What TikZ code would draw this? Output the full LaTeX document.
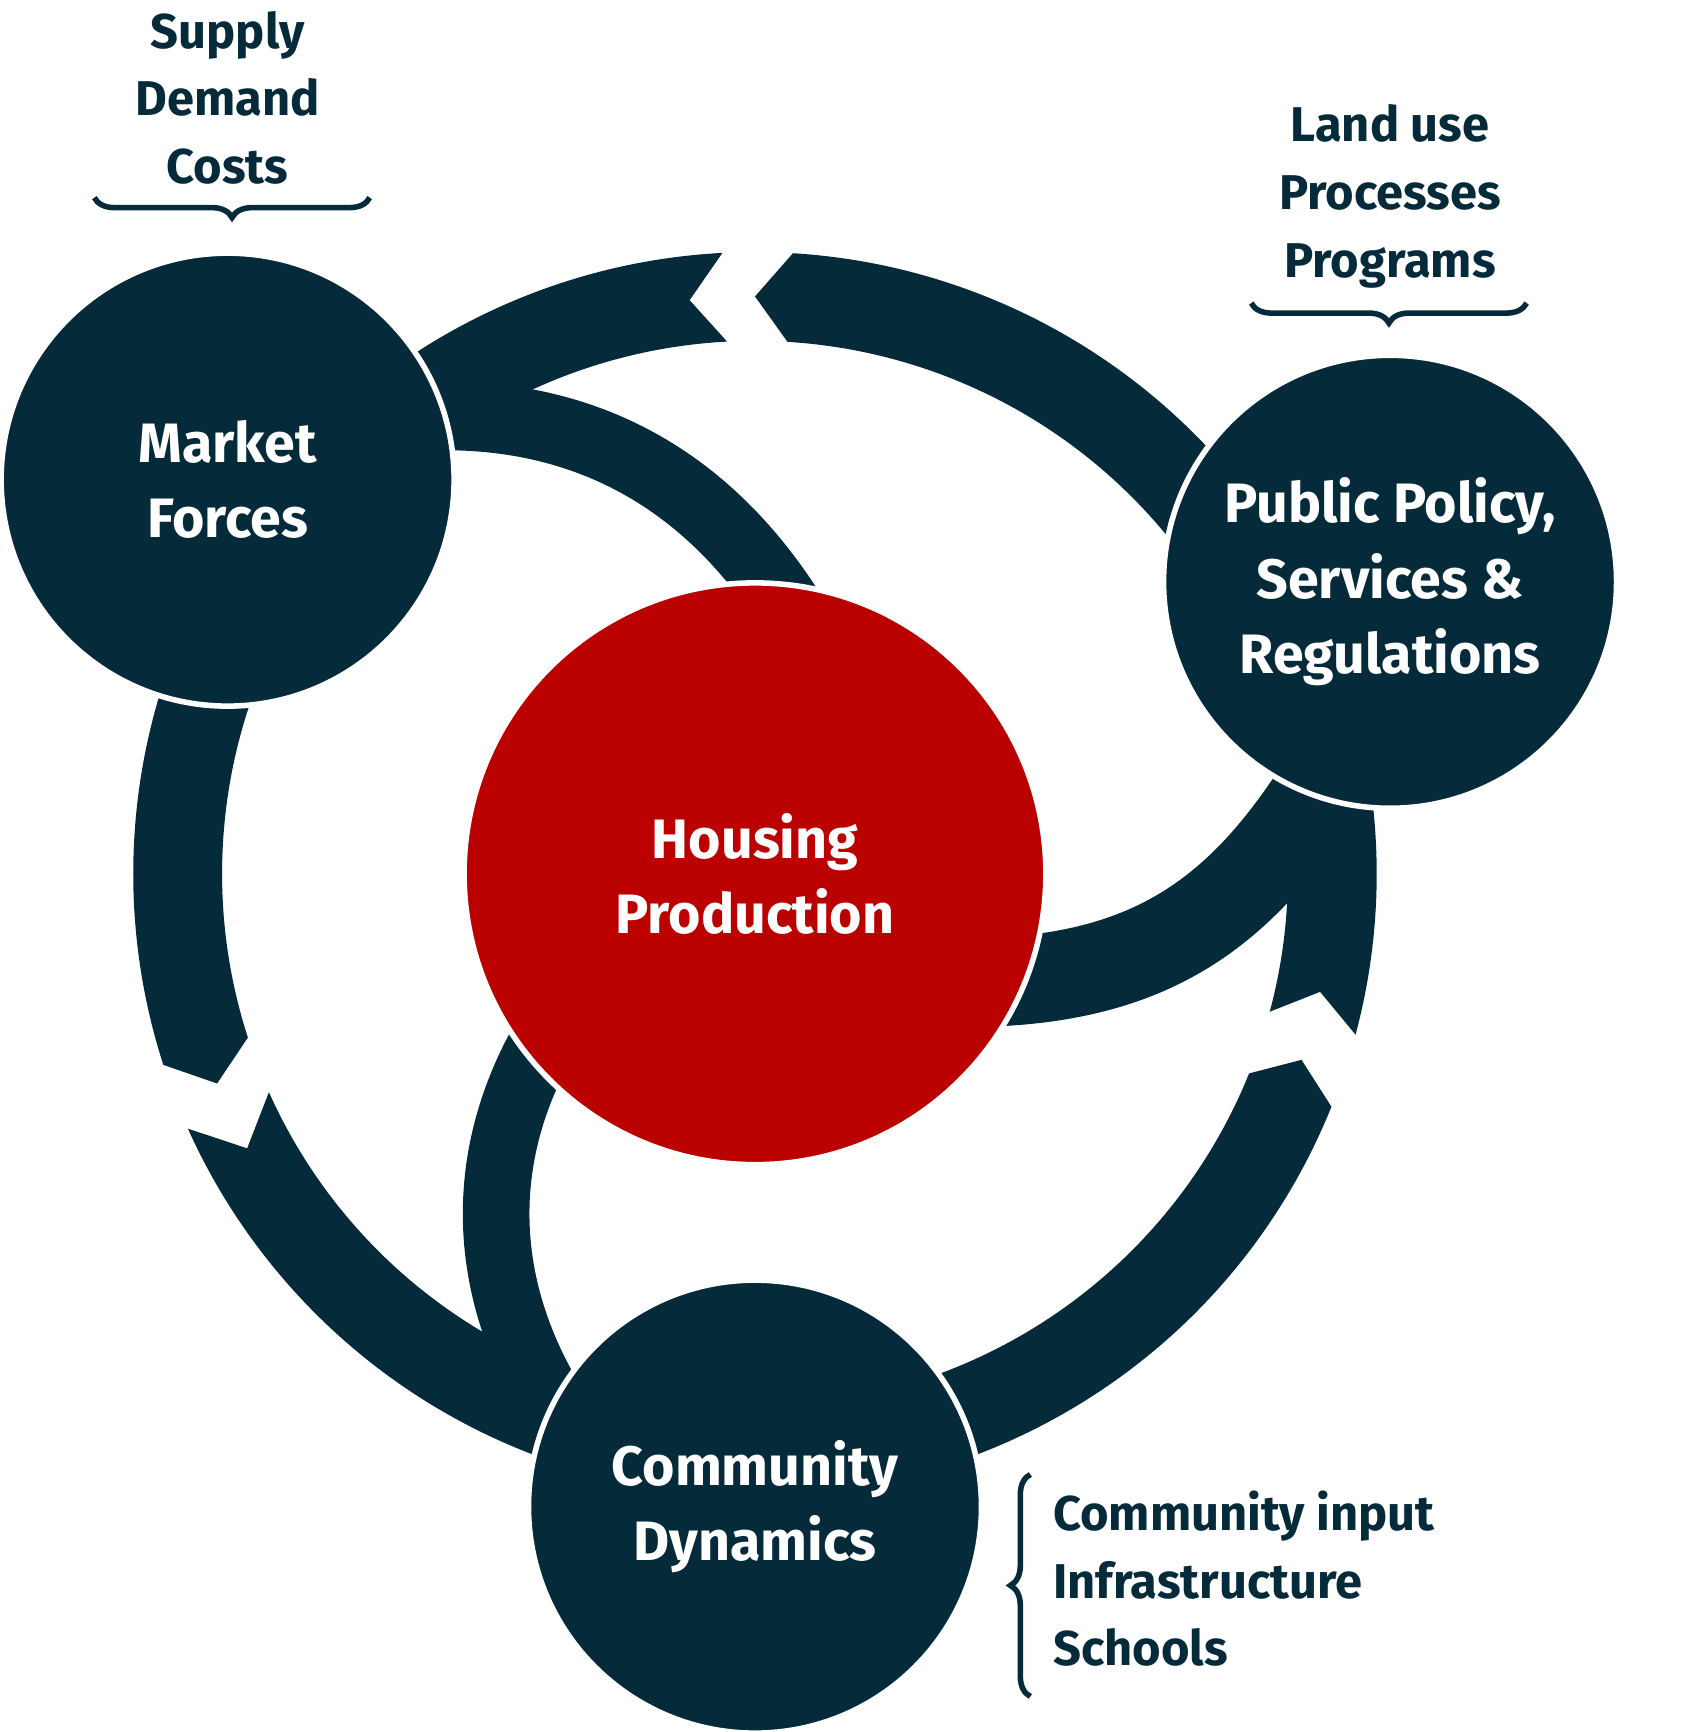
\documentclass[tikz,border=0pt]{standalone}
\usepackage{fontspec}
\setmainfont{Fira Sans}
\usetikzlibrary{decorations.pathreplacing,calc}
\definecolor{navy}{HTML}{052A3A}
\definecolor{hred}{HTML}{BB0000}
\begin{document}
\begin{tikzpicture}[x=1pt,y=1pt,
  circ/.style={circle,fill=navy,draw=white,line width=5pt,minimum size=408pt,inner sep=0pt,text=white,align=center,font=\fontsize{50}{68}\selectfont\bfseries},
  lab/.style={text=navy,font=\fontsize{44}{61}\selectfont\bfseries,align=center},
  band/.style={draw=navy,line width=62pt},
  brc/.style={draw=navy,line width=5pt,decorate,decoration={brace,amplitude=18pt}}]
\useasboundingbox (0,0) rectangle (1534,-1560);
\coordinate (C) at (680,-787);
% outer ring pieces
\begin{scope}[shift={(C)}]
\fill[navy] (-15:480) arc[start angle=-15,end angle=86.5,radius=480] -- (90:520) -- (86.5:560) arc[start angle=86.5,end angle=-15,radius=560] -- (-11.8:520) -- cycle;
\fill[navy] (93:480) arc[start angle=93,end angle=197.9,radius=480] -- (201.3:520) -- (197.9:560) arc[start angle=197.9,end angle=93,radius=560] -- (96.5:520) -- cycle;
\fill[navy] (204.2:480) arc[start angle=204.2,end angle=338,radius=480] -- (341.2:520) -- (338:560) arc[start angle=338,end angle=204.2,radius=560] -- (208.4:520) -- cycle;
\end{scope}
% inner bands
\coordinate (b1s) at (300,-385); \coordinate (b1e) at (740,-600);
\coordinate (b2s) at (1195,-700); \coordinate (b2e) at (880,-885);
\coordinate (b3s) at (500,-920); \coordinate (b3e) at (495,-1260);
\draw[band] (b1s) .. controls (500,-345) and (650,-420) .. (b1e);
\draw[band,line width=80pt] (b2s) .. controls (1120,-820) and (1040,-882) .. (b2e);
\draw[band,line width=60pt] (b3s) .. controls (430,-1030) and (430,-1150) .. (b3e);
% circles
\node[circ] (mf) at (205,-432) {Market\\Forces};
\node[circ] (pp) at (1252,-524) {Public Policy,\\Services \&\\Regulations};
\node[circ] (cd) at (680,-1357) {Community\\Dynamics};
\node[circ,fill=hred,minimum size=524pt] (hp) at (680,-787) {Housing\\Production};
% labels
\node[lab] (l1) at (205,-88) {Supply\\Demand\\Costs};
\node[lab] (l2) at (1252,-177) {Land use\\Processes\\Programs};
\node[lab,align=left,anchor=west] (l3) at (945,-1422) {Community input\\Infrastructure\\Schools};
% braces
\coordinate (a1) at (333,-178); \coordinate (a2) at (85,-178);
\coordinate (a3) at (1375,-273); \coordinate (a4) at (1127,-273);
\coordinate (a5) at (928,-1528); \coordinate (a6) at (928,-1328);
\draw[brc] (a1) -- (a2);
\draw[brc] (a3) -- (a4);
\draw[brc] (a5) -- (a6);
\end{tikzpicture}
\end{document}
